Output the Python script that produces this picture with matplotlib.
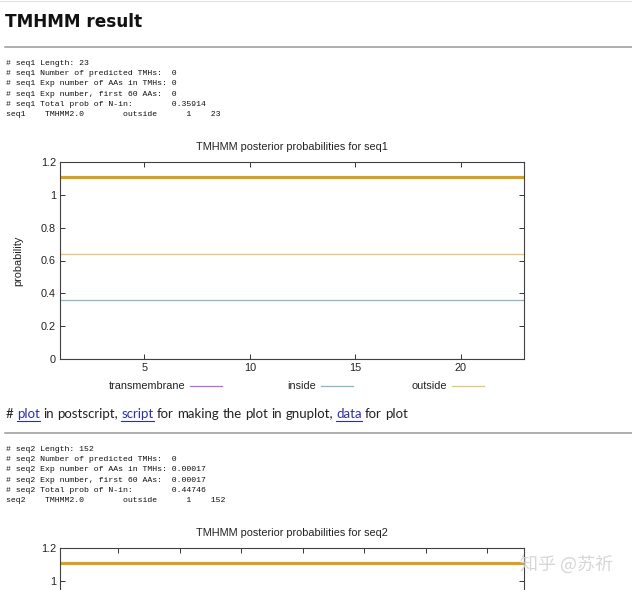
import matplotlib
matplotlib.use("Agg")
import matplotlib.pyplot as plt
from matplotlib.lines import Line2D

W, H = 632, 590

# text blocks as printed by TMHMM
seq1_summary = [
    "# seq1 Length: 23",
    "# seq1 Number of predicted TMHs:  0",
    "# seq1 Exp number of AAs in TMHs: 0",
    "# seq1 Exp number, first 60 AAs:  0",
    "# seq1 Total prob of N-in:        0.35914",
    "seq1\tTMHMM2.0\toutside\t     1    23",
]
seq2_summary = [
    "# seq2 Length: 152",
    "# seq2 Number of predicted TMHs:  0",
    "# seq2 Exp number of AAs in TMHs: 0.00017",
    "# seq2 Exp number, first 60 AAs:  0.00017",
    "# seq2 Total prob of N-in:        0.44746",
    "seq2\tTMHMM2.0\toutside\t     1    152",
]

# posterior probabilities (flat over the whole sequence)
seq1_pos = [1, 23]
seq1_tm = [0.0, 0.0]
seq1_inside = [0.35914, 0.35914]
seq1_outside = [0.64086, 0.64086]
seq1_topology = [("outside", 1, 23)]
seq1_xticks = [5, 10, 15, 20]

seq2_pos = [1, 152]
seq2_tm = [0.0, 0.0]
seq2_inside = [0.44746, 0.44746]
seq2_outside = [0.55254, 0.55254]
seq2_topology = [("outside", 1, 152)]
seq2_xticks = [20, 40, 60, 80, 100, 120, 140]

yticks = [0, 0.2, 0.4, 0.6, 0.8, 1, 1.2]
ytick_labels = ["0", "0.2", "0.4", "0.6", "0.8", "1", "1.2"]
legend_labels = ["transmembrane", "inside", "outside"]

colors = {"transmembrane": "#b469dc", "inside": "#86b6cf", "outside": "#e7c56e"}
bar_color = "#d5a11f"
bar_level = {"outside": 1.11, "inside": 1.09, "transmembrane": 1.1}

GP_FONT = "Liberation Sans"
GP_SIZE = 7.8
PAGE_FONT = "Lato"


def fx(x):
    return x / W


def fy(y):
    return 1 - y / H


fig = plt.figure(figsize=(W / 100, H / 100), dpi=100)
fig.patch.set_facecolor("white")
renderer = fig.canvas.get_renderer()


def text_width(s, **kw):
    t = fig.text(0, 0, s, **kw)
    w = t.get_window_extent(renderer).width
    t.remove()
    return w


def hline(y, x0, x1, color, lw):
    fig.add_artist(Line2D([fx(x0), fx(x1)], [fy(y), fy(y)], transform=fig.transFigure,
                          color=color, lw=lw))


# page header
head_kw = dict(weight="bold", family=["DejaVu Sans"])
size = 14 * 138 / text_width("TMHMM result", fontsize=14, **head_kw)
fig.text(fx(5), fy(27), "TMHMM result", fontsize=size, va="baseline", color="#111111",
         **head_kw)
hline(1, 0, W, "#e4e4e4", 0.8)
hline(47, 5, W, "#9a9a9a", 1.1)


def mono_block(lines, y0):
    for i, line in enumerate(lines):
        fig.text(fx(6), fy(y0 + i * 10.2), line.expandtabs(8), fontsize=5.85,
                 family="Liberation Mono", va="baseline", color="#111111")


mono_block(seq1_summary, 65)
mono_block(seq2_summary, 451)


def gp_axes(top, pos, tm, inside, outside, topology, xticks, name):
    ax = fig.add_axes([fx(60), fy(top + 197), fx(464), 197 / H])
    ax.plot(pos, tm, color=colors["transmembrane"], lw=0.8, zorder=1)
    ax.plot(pos, inside, color=colors["inside"], lw=0.9)
    ax.plot(pos, outside, color=colors["outside"], lw=0.9)
    for kind, start, end in topology:
        ax.plot([start, end], [bar_level[kind]] * 2, color=bar_color, lw=2.3,
                solid_capstyle="butt")
    ax.set_xlim(pos[0], pos[-1])
    ax.set_ylim(0, 1.2)
    ax.set_xticks(xticks)
    ax.set_xticklabels([str(t) for t in xticks], family=GP_FONT)
    ax.set_yticks(yticks)
    ax.set_yticklabels(ytick_labels, family=GP_FONT)
    ax.tick_params(direction="in", length=3.3, width=0.7, top=True, right=True,
                   labelsize=GP_SIZE, pad=2.9, colors="#333333", labelcolor="#222222")
    for sp in ax.spines.values():
        sp.set_color("#404040")
        sp.set_linewidth(0.8)
        sp.set_zorder(3)
    ax.set_title("TMHMM posterior probabilities for " + name, fontsize=GP_SIZE,
                 family=GP_FONT, pad=8.6, color="#222222")
    ax.set_ylabel("probability", fontsize=GP_SIZE, family=GP_FONT, color="#222222")
    ax.yaxis.set_label_coords(-0.08, 0.5)
    return ax


ax1 = gp_axes(162, seq1_pos, seq1_tm, seq1_inside, seq1_outside, seq1_topology,
              seq1_xticks, "seq1")

# gnuplot style key below the first plot
key_text_right = [185, 316, 447]
for label, xr in zip(legend_labels, key_text_right):
    fig.text(fx(xr), fy(389), label, fontsize=GP_SIZE, family=GP_FONT, ha="right",
             va="baseline", color="#222222")
    fig.add_artist(Line2D([fx(xr + 5), fx(xr + 37)], [fy(385.5)] * 2,
                          transform=fig.transFigure, color=colors[label], lw=0.9))

# "# plot in postscript, ..." line with links
words = ["#", "plot", "in", "postscript,", "script", "for", "making", "the", "plot",
         "in", "gnuplot,", "data", "for", "plot"]
links = {1, 4, 11}
sentence = " ".join(words)
size = 10 * 402 / text_width(sentence, fontsize=10, family=PAGE_FONT)
for i, word in enumerate(words):
    prefix = " ".join(words[:i + 1])
    x = 6 + text_width(prefix, fontsize=size, family=PAGE_FONT) \
        - text_width(word, fontsize=size, family=PAGE_FONT)
    color = "#2b2fa8" if i in links else "#222222"
    fig.text(fx(x), fy(418), word, fontsize=size, family=PAGE_FONT, va="baseline",
             color=color)
    if i in links:
        w = text_width(word, fontsize=size, family=PAGE_FONT)
        hline(420.5, x, x + w, color, 0.8)

hline(433, 5, W, "#9a9a9a", 1.1)

ax2 = gp_axes(548, seq2_pos, seq2_tm, seq2_inside, seq2_outside, seq2_topology,
              seq2_xticks, "seq2")
# the page is cut below the second plot: drop labels that fall off the canvas
fig.canvas.draw()
for t in ax2.get_xticklabels() + ax2.get_yticklabels() + [ax2.yaxis.label]:
    if t.get_window_extent(renderer).y1 < 2:
        t.set_visible(False)

# watermark
fig.text(fx(566), fy(564), "知乎 @苏祈", fontsize=13, ha="center", va="center",
         family=["Noto Sans CJK SC", "DejaVu Sans"], color="#d2d2d2", alpha=0.9,
         zorder=10)

fig.savefig("out.png", dpi=100)
